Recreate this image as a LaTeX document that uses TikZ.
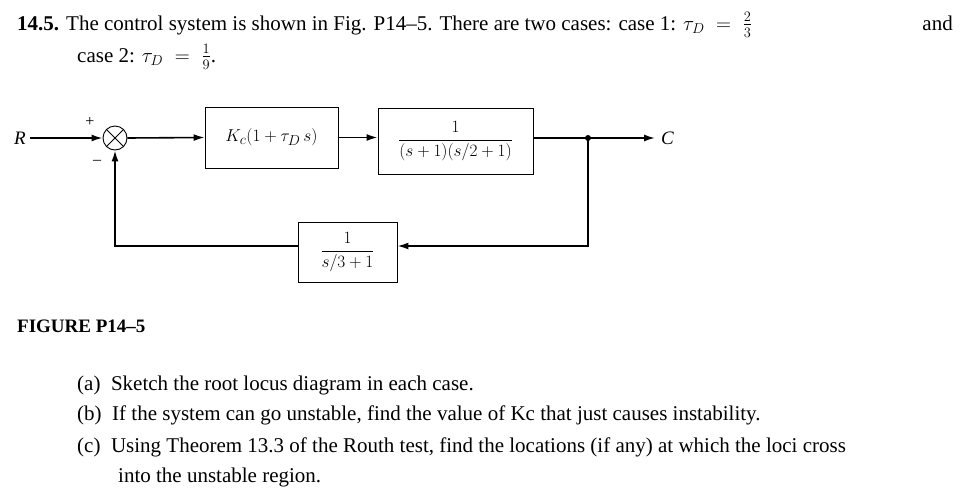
\documentclass[tikz,border=0pt]{standalone}
\usepackage{amsmath}
\usepackage{fontspec}
\setmainfont{Liberation Serif}
\usetikzlibrary{arrows.meta}
\begin{document}
\begin{tikzpicture}[x=1pt,y=-1pt,
  txt/.style={anchor=base west,inner sep=0pt,font=\fontsize{21}{25}\selectfont},
  blk/.style={draw,line width=0.9pt,inner sep=0pt,font=\fontsize{19}{22}\selectfont},
  lbl/.style={inner sep=0pt,font=\fontsize{19}{22}\selectfont\itshape},
  con/.style={line width=1.6pt,-{Latex[length=11pt,width=7pt]}},
  ln/.style={line width=1.6pt}]
\useasboundingbox (0,0) rectangle (965,498);
\node[txt] (l1) at (17,30) {\textbf{14.5.} The control system is shown in Fig. P14–5. There are two cases: case 1: $\tau_D\;=\;\frac{2}{3}$};
\node[txt,anchor=base east] (and) at (953,30) {and};
\node[txt] (l2) at (77,62) {case 2: $\tau_D\;=\;\frac{1}{9}$.};
% diagram
\node[lbl] (R) at (20,138) {R};
\node[draw,circle,line width=0.9pt,minimum size=24pt,inner sep=0pt] (S) at (115,138) {};
\draw[line width=0.9pt] (S.north west)--(S.south east) (S.north east)--(S.south west);
\node[blk,minimum width=133pt,minimum height=61pt] (B1) at (271.5,137.5) {$K_c(1+\tau_D\, s)$};
\node[blk,minimum width=155pt,minimum height=66pt] (B2) at (455.5,141) {$\dfrac{1}{(s+1)(s/2+1)}$};
\node[blk,minimum width=99pt,minimum height=60pt] (B3) at (347.5,252) {$\dfrac{1}{s/3+1}$};
\coordinate (J) at (588,138);
\fill (J) circle (3pt);
\node[lbl,anchor=west] (C) at (661,138) {C};
\coordinate (FB) at (588,246);
\coordinate (FL) at (115,246);
\node[font=\fontsize{16}{18}\selectfont] (plus) at (90,122) {+};
\node[font=\fontsize{16}{18}\selectfont] (minus) at (97,162) {–};
\draw[con] ([xshift=4pt]R.east) -- (S.west);
\draw[con] (S.east) -- (B1.west);
\draw[con] (B1.east) -- (B2.west |- B1.east);
\draw[ln] (B2.east |- J) -- (J);
\draw[con] (J) -- ([xshift=-6pt]C.west);
\draw[con] (J) -- (FB) -- (B3.east |- FB);
\draw[con] (B3.west |- FL) -- (FL) -- (S.south);
\node[txt,font=\fontsize{19}{22}\selectfont\bfseries] (fig) at (17,332) {FIGURE P14–5};
\node[txt] (a) at (77,390) {(a)\ \ Sketch the root locus diagram in each case.};
\node[txt] (b) at (77,420) {(b)\ \ If the system can go unstable, find the value of Kc that just causes instability.};
\node[txt] (c) at (77,452) {(c)\ \ Using Theorem 13.3 of the Routh test, find the locations (if any) at which the loci cross};
\node[txt] (c2) at (118,482) {into the unstable region.};
\end{tikzpicture}
\end{document}
